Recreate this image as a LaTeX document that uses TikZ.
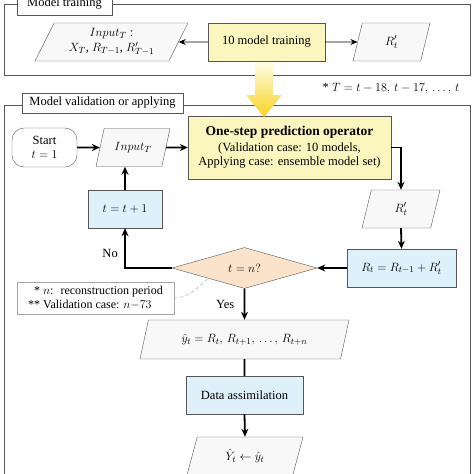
\documentclass[tikz,border=0pt]{standalone}
\usepackage{fontspec}
\setmainfont{Liberation Serif}
\usetikzlibrary{shapes.geometric, arrows.meta, positioning}

\definecolor{boxyellow}{HTML}{FBF6BE}
\definecolor{boxblue}{HTML}{DEF1FB}
\definecolor{boxorange}{HTML}{FBE3CB}
\definecolor{iogray}{HTML}{F8F8F8}
\definecolor{edgegray}{HTML}{555555}
\definecolor{arrowtop}{HTML}{FFFDE8}
\definecolor{arrowbot}{HTML}{F8D21E}

\tikzset{
  io/.style={trapezium, trapezium left angle=57, trapezium right angle=123,
    trapezium stretches body, draw=edgegray, fill=iogray, inner sep=1pt,
    minimum height=38pt},
  proc/.style={rectangle, draw=edgegray, inner sep=2pt, minimum height=38pt},
  term/.style={rectangle, rounded corners=12pt, draw=edgegray, fill=white,
    align=center, inner sep=1pt, minimum width=65pt, minimum height=39pt},
  decide/.style={diamond, draw=edgegray, fill=boxorange, inner sep=0pt,
    minimum width=145pt, minimum height=38pt},
  tag/.style={rectangle, draw=edgegray, fill=white, inner sep=2pt},
  arr/.style={-{Stealth[length=8pt,width=7pt]}, line width=1.8pt},
  thinarr/.style={-{Stealth[length=7pt,width=6pt]}, line width=0.9pt},
}

\begin{document}
\begin{tikzpicture}[x=1pt, y=-1pt, font=\fontsize{12.5}{14}\selectfont]
  \useasboundingbox (0,0) rectangle (474,474);
  \clip (0,0) rectangle (474,474);

  % ── Model training ───────────────────────────────────────────────
  \draw[edgegray, line width=0.9pt] (4,4) rectangle (470,75);
  \node[tag, minimum width=95pt, minimum height=22pt] (trainlbl) at (64.5,4) {Model training};

  \node[io, minimum width=153pt, align=center] (in1) at (111.5,42)
    {$Input_T$ :\\[1pt] $X_T$, $R_{T-1}$, $R'_{T-1}$};
  \node[proc, fill=boxyellow, minimum width=117pt] (train) at (266.5,42) {10 model training};
  \node[io, minimum width=77pt] (rp1) at (391.5,42) {$R'_t$};

  \draw[thinarr] (train.west) -- (in1.east);
  \draw[thinarr] (train.east) -- (rp1.west);

  \node[anchor=east] (Tnote) at (463,89) {* $T = t - 18,\, t - 17,\, \ldots,\, t$};

  % ── Model validation or applying ─────────────────────────────────
  \draw[edgegray, line width=0.9pt] (4,105) rectangle (470,490);
  \node[tag, minimum width=161pt, minimum height=20pt] (validlbl) at (102.5,103)
    {Model validation or applying};

  \node[term] (start) at (44.5,147.5) {Start\\$t = 1$};
  \node[io, minimum width=74pt] (in2) at (133,147.5) {$Input_T$};
  \node[proc, fill=boxyellow, minimum width=203pt, minimum height=63pt, align=center] (op)
    at (289.5,147.5)
    {{\fontsize{13.5}{15}\selectfont\bfseries One-step prediction operator}\\[2pt]
     (Validation case: 10 models,\\ Applying case: ensemble model set)};
  \node[proc, fill=boxblue, minimum width=74pt] (inc) at (125,209) {$t = t + 1$};
  \node[io, minimum width=78pt] (rp2) at (401,209) {$R'_t$};
  \node[proc, fill=boxblue, minimum width=109pt] (rt) at (401.5,268) {$R_t = R_{t-1} + R'_t$};
  \node[decide] (dec) at (244.5,268) {$t = n?$};
  \node[tag, draw=gray!70, minimum width=157pt, minimum height=32pt, align=left,
    font=\fontsize{12}{14}\selectfont] (note) at (95.5,298)
    {\hspace{6pt}* $n$:~ reconstruction period\\** Validation case: $n{-}73$};
  \node[io, minimum width=209pt, minimum height=39pt] (yhat) at (244.5,339.5)
    {$\hat{y}_t = R_t,\, R_{t+1},\, \ldots,\, R_{t+n}$};
  \node[proc, fill=boxblue, minimum width=117pt] (da) at (244.5,395) {Data assimilation};
  \node[io, minimum width=116pt] (yfin) at (245,456) {$\hat{Y}_t \leftarrow \hat{y}_t$};

  % big arrow between the two parts
  \shade[top color=arrowtop, bottom color=arrowbot]
    (255,62) -- (273,62) -- (273,95) -- (282,95) -- (264,117) -- (246,95) -- (255,95) -- cycle;

  \draw[arr] (start.east) -- (in2.west);
  \draw[arr] (in2.east) -- (op.west);
  \draw[arr] (op.east) -| (rp2.north);
  \draw[arr] (rp2.south) -- (rt.north);
  \draw[arr] (rt.west) -- (dec.east);
  \draw[arr] (dec.west) -| node[pos=0.68, left=3pt] {No} (inc.south);
  \draw[arr] (inc.north) -- (inc.north |- in2.south);
  \draw[arr] (dec.south) -- node[left=6pt] {Yes} (yhat.north);
  \draw[line width=1.8pt] (yhat.south) -- (da.north);
  \draw[arr] (da.south) -- (yfin.north);
  \draw[gray!60, dashed, line width=0.6pt] (note.east) to[out=0, in=220] (dec.south west);
\end{tikzpicture}
\end{document}
